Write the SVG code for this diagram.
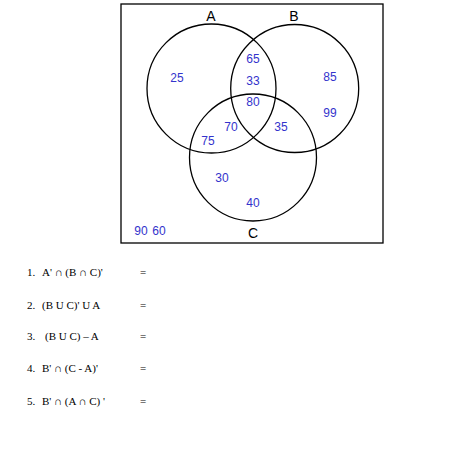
<svg xmlns="http://www.w3.org/2000/svg" width="474" height="474" viewBox="0 0 474 474">
<style>
.set{fill:none;stroke:#000;stroke-width:1.3}
.lbl{font-family:"Liberation Sans",Arial,sans-serif;font-size:14px;fill:#000;text-anchor:middle}
.num{font-family:"Liberation Sans",Arial,sans-serif;font-size:12px;fill:#3333cc;text-anchor:middle}
.q{font-family:"Liberation Serif","Times New Roman",serif;font-size:11px;fill:#000}
</style>
<rect width="474" height="474" fill="#fff"/>
<rect id="universe" x="121" y="4" width="262" height="239" fill="none" stroke="#000" stroke-width="1.3"/>
<g id="setA"><circle class="set" cx="211.5" cy="88.5" r="64.5"/><text class="lbl" x="211" y="21">A</text></g>
<g id="setB"><circle class="set" cx="294.7" cy="88.5" r="64"/><text class="lbl" x="294" y="21">B</text></g>
<g id="setC"><circle class="set" cx="253" cy="157.5" r="63.5"/><text class="lbl" x="253" y="238">C</text></g>
<g id="connectors"></g>
<g id="numbers">
<text class="num" x="253" y="63">65</text>
<text class="num" x="253" y="85">33</text>
<text class="num" x="253" y="106">80</text>
<text class="num" x="177" y="82">25</text>
<text class="num" x="330" y="81">85</text>
<text class="num" x="330" y="117">99</text>
<text class="num" x="231" y="131">70</text>
<text class="num" x="281" y="131">35</text>
<text class="num" x="208" y="145">75</text>
<text class="num" x="222" y="182">30</text>
<text class="num" x="253" y="207">40</text>
<text class="num" x="141" y="235">90</text>
<text class="num" x="159" y="235">60</text>
</g>
<g id="questions">
<text class="q" x="27" y="276">1.</text><text class="q" x="42" y="276">A' ∩ (B ∩ C)'</text><text class="q" x="140" y="276">=</text>
<text class="q" x="27" y="309">2.</text><text class="q" x="42" y="309">(B U C)' U A</text><text class="q" x="140" y="309">=</text>
<text class="q" x="27" y="340">3.</text><text class="q" x="45" y="340">(B U C) – A</text><text class="q" x="140" y="340">=</text>
<text class="q" x="27" y="372">4.</text><text class="q" x="42" y="372">B' ∩ (C - A)'</text><text class="q" x="140" y="372">=</text>
<text class="q" x="27" y="405">5.</text><text class="q" x="42" y="405">B' ∩ (A ∩ C) '</text><text class="q" x="140" y="405">=</text>
</g>
</svg>
